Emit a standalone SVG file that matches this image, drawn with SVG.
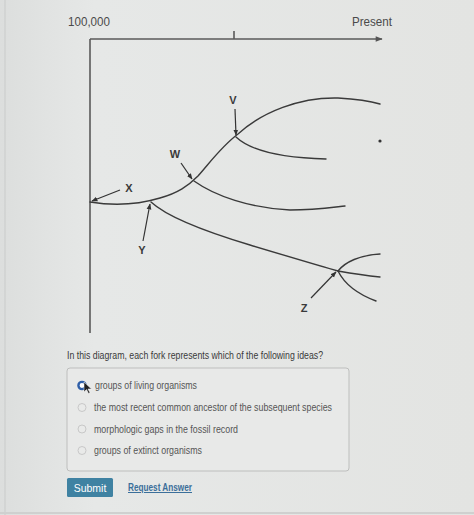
<svg xmlns="http://www.w3.org/2000/svg" width="474" height="515" viewBox="0 0 474 515">
<defs>
<linearGradient id="bg" x1="0" y1="0" x2="1" y2="0">
<stop offset="0" stop-color="#dcdedd"/>
<stop offset="0.2" stop-color="#e6e8e7"/>
<stop offset="1" stop-color="#e3e4e2"/>
</linearGradient>
<marker id="ah" viewBox="0 0 10 10" refX="9" refY="5" markerWidth="6" markerHeight="6" orient="auto-start-reverse" markerUnits="userSpaceOnUse">
<path d="M0,1 L10,5 L0,9 z" fill="#333"/>
</marker>
<marker id="axh" viewBox="0 0 10 10" refX="9" refY="5" markerWidth="9" markerHeight="7" orient="auto" markerUnits="userSpaceOnUse">
<path d="M0,1 L10,5 L0,9 z" fill="#555"/>
</marker>
<style>
.ln{fill:none;stroke:#3a3a3a;stroke-width:1.4;stroke-linecap:round}
.ax{fill:none;stroke:#5a5a5a;stroke-width:1.6}
.ar{fill:none;stroke:#333;stroke-width:1.2}
.lb{font-family:"Liberation Sans",Arial,sans-serif;font-size:11px;font-weight:bold;fill:#3a3a3a;text-anchor:middle}
.hd{font-family:"Liberation Sans",Arial,sans-serif;font-size:13px;fill:#4a4a4a}
.q{font-family:"Liberation Sans",Arial,sans-serif;font-size:10.5px;fill:#3a3a3a}
.op{font-family:"Liberation Sans",Arial,sans-serif;font-size:10.2px;fill:#555}
.rad{fill:#e9eae9;stroke:#c8c8c8;stroke-width:1}
</style>
</defs>
<rect width="474" height="515" fill="url(#bg)"/>
<line x1="5" y1="0" x2="5" y2="515" stroke="#c9cbca" stroke-width="1"/>
<line x1="0" y1="513" x2="474" y2="513" stroke="#cfd0cf" stroke-width="2"/>

<g id="axes">
<line class="ax" x1="90" y1="333" x2="90" y2="39"/>
<line class="ax" x1="90" y1="39" x2="382" y2="39" marker-end="url(#axh)"/>
<line class="ax" x1="234" y1="31" x2="234" y2="39"/>
<text class="hd" x="68" y="26" textLength="42" lengthAdjust="spacingAndGlyphs">100,000</text>
<text class="hd" x="352" y="26" textLength="40" lengthAdjust="spacingAndGlyphs">Present</text>
</g>

<g id="tree">
<path class="ln" d="M90,202 C115,206 140,204 160,198 C178,193 188,186 198,176 C212,160 222,146 238,134 C262,112 300,97 338,98 C356,99 370,101 380,104"/>
<path class="ln" d="M236,137 C250,150 280,158 326,159"/>
<path class="ln" d="M194,181 C215,196 250,208 290,210 C315,210 335,207 345,206"/>
<path class="ln" d="M151,202 C165,215 200,230 250,245 C290,257 320,266 338,271 C355,274 370,276 380,277"/>
<path class="ln" d="M338,271 C345,262 360,255 380,254"/>
<path class="ln" d="M338,271 C345,285 360,295 376,301"/>
<circle cx="380" cy="141" r="1.6" fill="#333"/>
</g>

<g id="connectors">
<line class="ar" x1="120" y1="190" x2="92" y2="201" marker-end="url(#ah)"/>
<line class="ar" x1="181" y1="163" x2="192" y2="179" marker-end="url(#ah)"/>
<line class="ar" x1="235" y1="109" x2="236" y2="135" marker-end="url(#ah)"/>
<line class="ar" x1="143" y1="241" x2="150" y2="204" marker-end="url(#ah)"/>
<line class="ar" x1="311" y1="298" x2="336" y2="272" marker-end="url(#ah)"/>
</g>

<g id="labels">
<text class="lb" x="129" y="192">X</text>
<text class="lb" x="175" y="158">W</text>
<text class="lb" x="233" y="104">V</text>
<text class="lb" x="142" y="254">Y</text>
<text class="lb" x="304" y="312">Z</text>
</g>

<g id="question">
<text class="q" x="67" y="359" textLength="256" lengthAdjust="spacingAndGlyphs">In this diagram, each fork represents which of the following ideas?</text>
<rect x="67" y="368" width="282" height="103" rx="3" fill="#e8e9e8" stroke="#bdbebd" stroke-width="1"/>
<circle cx="82" cy="385.5" r="3.6" fill="#fff" stroke="#2f5fa8" stroke-width="2.4"/>
<path d="M84,382 L84,392 L86.5,389.5 L88.5,393.5 L90,392.8 L88,389 L91.5,389 z" fill="#222" stroke="#fff" stroke-width="0.5"/>
<text class="op" x="95" y="389" textLength="102" lengthAdjust="spacingAndGlyphs">groups of living organisms</text>
<circle class="rad" cx="82" cy="407.5" r="4"/>
<text class="op" x="94" y="411" textLength="238" lengthAdjust="spacingAndGlyphs">the most recent common ancestor of the subsequent species</text>
<circle class="rad" cx="82" cy="429" r="4"/>
<text class="op" x="94" y="432.5" textLength="144" lengthAdjust="spacingAndGlyphs">morphologic gaps in the fossil record</text>
<circle class="rad" cx="82" cy="450.5" r="4"/>
<text class="op" x="94" y="454" textLength="108" lengthAdjust="spacingAndGlyphs">groups of extinct organisms</text>
</g>

<g id="buttons">
<rect x="67" y="478" width="46" height="19" rx="1.5" fill="#3f82a2"/>
<text x="90" y="491.5" font-family="'Liberation Sans',Arial,sans-serif" font-size="10.5" fill="#fff" text-anchor="middle">Submit</text>
<text x="128" y="491" font-family="'Liberation Sans',Arial,sans-serif" font-size="10" font-weight="bold" fill="#3b6f9a" text-decoration="underline" textLength="64" lengthAdjust="spacingAndGlyphs">Request Answer</text>
</g>
</svg>
